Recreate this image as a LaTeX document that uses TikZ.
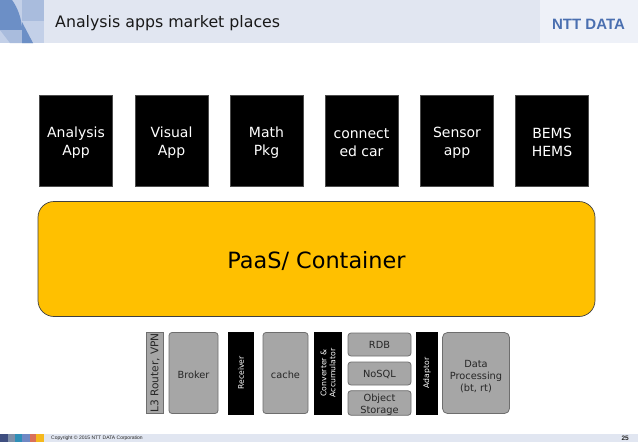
\documentclass[tikz,border=0pt]{standalone}
\usepackage{fontspec}
\setmainfont{DejaVu Sans}
\newfontfamily\arialf{Liberation Sans}
\definecolor{band}{HTML}{E1E6F1}
\definecolor{bandr}{HTML}{EEF1F8}
\definecolor{gbox}{HTML}{A6A6A6}
\definecolor{gedge}{HTML}{6E6E6E}
\definecolor{gold}{HTML}{FFC000}
\definecolor{logoc}{HTML}{4A6FB0}
\definecolor{tileA}{HTML}{A9BCDD}
\definecolor{tileB}{HTML}{C3D0E8}
\definecolor{tileC}{HTML}{6C8FC6}
\definecolor{stA}{HTML}{3F4F80}
\definecolor{stB}{HTML}{7F8FA8}
\definecolor{stC}{HTML}{2F8FB8}
\definecolor{stP}{HTML}{7088C4}
\definecolor{stD}{HTML}{D9705A}
\definecolor{stE}{HTML}{F5B81C}
\newcommand{\appline}[1]{\rule[-0.5pt]{0pt}{15pt}#1}
\tikzset{
 appbox/.style={draw=black!70,fill=black,text=white,minimum width=73pt,minimum height=91pt,inner sep=0pt,align=center,font=\fontsize{14}{18.2}\selectfont},
 blackbar/.style={fill=black,text=white,inner sep=0pt,align=center,font=\fontsize{7.7}{9}\selectfont},
 graybox/.style={draw=gedge,line width=0.8pt,fill=gbox,rounded corners=3pt,inner sep=0pt,align=center,text=black!85,font=\fontsize{9.8}{12}\selectfont},
 lbl/.style={inner sep=0pt}
}
\begin{document}
\begin{tikzpicture}[x=1pt,y=-1pt]
\useasboundingbox (0,0) rectangle (638,442);
\fill[white] (0,0) rectangle (638,442);
% header
\fill[band] (0,0) rectangle (540,43);
\fill[bandr] (540,0) rectangle (638,43);
\fill[tileB] (0,0) rectangle (44,43);
\fill[tileA] (22,0) rectangle (44,21);
\fill[tileC] (0,0) -- (12,0) .. controls (18,8) and (22,20) .. (22,30) -- (0,30) -- cycle;
\fill[tileA] (0,30) -- (22,30) -- (33,43) -- (10,43) -- cycle;
\fill[tileC] (22,22) -- (33,43) -- (22,43) -- cycle;
\node[lbl,anchor=west,font=\fontsize{15.8}{18}\selectfont,text=black!90] (title) at (55,23) {Analysis apps market places};
\node[lbl,anchor=center,font=\arialf\bfseries\fontsize{15}{16}\selectfont,text=logoc] (logo) at (588.5,24) {NTT DATA};
% apps
\node[appbox] (a1) at (76,140.5) {\appline{Analysis}\\\appline{App}};
\node[appbox] (a2) at (171.5,140.5) {\appline{Visual}\\\appline{App}};
\node[appbox] (a3) at (266.5,140.5) {\appline{Math}\\\appline{Pkg}};
\node[appbox] (a4) at (361.5,140.5) {\appline{connect}\\\appline{ed car}};
\node[appbox] (a5) at (457,140.5) {\appline{Sensor}\\\appline{app}};
\node[appbox] (a6) at (552,140.5) {\appline{BEMS}\\\appline{HEMS}};
% paas
\node[draw=black!75,line width=0.7pt,fill=gold,rounded corners=16pt,minimum width=557pt,minimum height=115pt,inner sep=0pt,font=\fontsize{22.4}{26}\selectfont] (paas) at (316.5,259) {\smash{PaaS/ Container}\rule{0pt}{18pt}};
% bottom row
\node[draw=gedge,line width=0.8pt,fill=gbox,minimum width=81pt,minimum height=17pt,inner sep=0pt,rotate=90,text=black!85,font=\fontsize{10.6}{12}\selectfont] (l3) at (155,373) {L3 Router, VPN};
\node[graybox,minimum width=49pt,minimum height=81pt] (broker) at (193.5,373) {\rule{0pt}{11pt}Broker};
\node[blackbar,minimum width=83pt,minimum height=26pt,rotate=90] (recv) at (241,373) {Receiver};
\node[graybox,minimum width=45pt,minimum height=81pt] (cache) at (285.5,373) {\rule{0pt}{11pt}cache};
\node[blackbar,minimum width=83pt,minimum height=28pt,rotate=90] (conv) at (328,373) {Converter \&\\Accumulator};
\node[graybox,minimum width=63pt,minimum height=23pt] (rdb) at (379.5,344.5) {RDB};
\node[graybox,minimum width=63pt,minimum height=23pt] (nosql) at (379.5,373.5) {\rule{0pt}{10pt}NoSQL};
\node[graybox,minimum width=63pt,minimum height=23pt] (obj) at (379.5,403) {\rule{0pt}{10.5pt}Object\\Storage};
\node[blackbar,minimum width=83pt,minimum height=22pt,rotate=90] (adapt) at (427,373) {Adaptor};
\node[graybox,rounded corners=5pt,minimum width=67pt,minimum height=81pt] (data) at (476,373) {\rule{0pt}{14pt}Data\\Processing\\(bt, rt)};
% footer
\fill[band] (0,434) rectangle (638,442);
\fill[stA] (0,434) rectangle (8,442);
\fill[stB] (8,434) rectangle (15,442);
\fill[stC] (15,434) rectangle (22,442);
\fill[stP] (22,434) rectangle (30,442);
\fill[stD] (30,434) rectangle (36,442);
\fill[stE] (36,434) rectangle (44,442);
\node[lbl,anchor=west,font=\arialf\fontsize{5}{6}\selectfont,text=black!85] (copy) at (51,438.5) {Copyright © 2015 NTT DATA Corporation};
\node[lbl,anchor=east,font=\arialf\bfseries\fontsize{6.5}{8}\selectfont,text=black!85] (pg) at (629,438.5) {25};
\end{tikzpicture}
\end{document}
